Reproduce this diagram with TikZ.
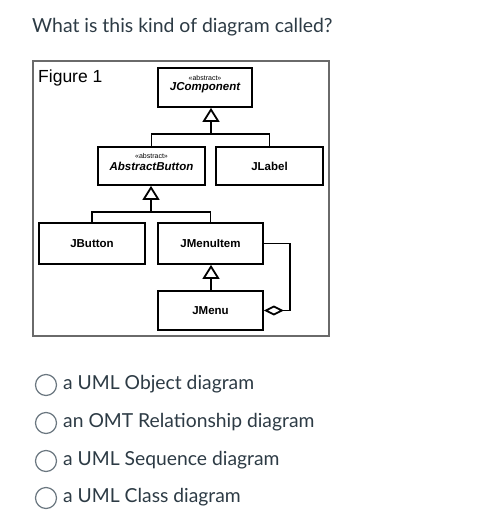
\documentclass[tikz,border=0pt]{standalone}
\usepackage{fontspec}
\setmainfont{Lato}
\newfontfamily\arial{Liberation Sans}
\usetikzlibrary{arrows.meta,calc}
\definecolor{qtext}{HTML}{2D3B45}
\definecolor{radio}{HTML}{6B7780}
\definecolor{framec}{HTML}{6A6A6A}
\tikzset{
  cls/.style={draw=black, line width=1.8pt, fill=white, rectangle, inner sep=0pt,
    minimum width=#1, minimum height=39pt, font=\arial\bfseries\fontsize{11.5}{13}\selectfont},
  abs/.style={font=\arial\fontsize{7}{9}\selectfont, inner sep=0pt},
  gen/.style={line width=1.8pt, -{Triangle[open, length=14pt, width=17pt, fill=white]}},
  agg/.style={line width=1.8pt, -{Diamond[open, length=20pt, width=10pt, fill=white]}},
  conn/.style={line width=1.8pt},
  qfont/.style={font=\fontsize{19.4}{23}\selectfont, text=qtext, inner sep=0pt, anchor=base west},
  ofont/.style={font=\fontsize{19.3}{23}\selectfont, text=qtext, inner sep=0pt, anchor=base west},
  rad/.style={draw=radio, line width=1.2pt, fill=white, circle, minimum size=21pt, inner sep=0pt},
}
\begin{document}
\begin{tikzpicture}[x=1pt, y=-1pt]
\useasboundingbox (0,0) rectangle (480,517);
\fill[white] (0,0) rectangle (480,517);

% question
\node[qfont] (q) at (32,32) {What is this kind of diagram called?};

% figure frame
\draw[framec, line width=1.6pt] (33,61) rectangle (329,336);
\node[font=\arial\fontsize{17.5}{20}\selectfont, inner sep=0pt, anchor=base west] (fig) at (38,82) {Figure 1};

% classes
\node[cls=94pt] (jcomp) at (205,87.5) {\itshape JComponent};
\node[abs] (jcompabs) at ($(jcomp.center)+(0,-9.5)$) {«abstract»};
\node[cls=107pt, minimum height=38pt] (absbtn) at (151.5,166) {\itshape AbstractButton};
\node[abs] (absbtnabs) at ($(absbtn.center)+(0,-10.5)$) {«abstract»};
\node[cls=107pt, minimum height=38pt] (jlabel) at (269.5,166) {JLabel};
\node[cls=106pt, minimum height=41pt] (jbutton) at (92,243.5) {JButton};
\node[cls=105pt, minimum height=41pt] (jmenuitem) at (210.5,243.5) {JMenuItem};
\node[cls=105pt] (jmenu) at (210.5,310.5) {JMenu};

% generalization 1
\coordinate (b1) at (211,134);
\draw[gen] (b1) -- (b1 |- jcomp.south);
\draw[conn] (absbtn.north) |- (b1) -| (jlabel.north);

% generalization 2
\coordinate (b2) at (151,212);
\draw[gen] (b2) -- (b2 |- absbtn.south);
\draw[conn] (jbutton.north) |- (b2) -| (jmenuitem.north);

% generalization 3
\draw[gen] (jmenu.north -| 211,0) -- (jmenuitem.south -| 211,0);

% aggregation
\draw[agg] (jmenuitem.east) -- ++(26,0) |- (jmenu.east);

% options
\node[rad] (r1) at (46,385) {};
\node[ofont] (o1) at (63,389) {a UML Object diagram};
\node[rad] (r2) at (46,423) {};
\node[ofont] (o2) at (63,427) {an OMT Relationship diagram};
\node[rad] (r3) at (46,461) {};
\node[ofont] (o3) at (63,465) {a UML Sequence diagram};
\node[rad] (r4) at (46,498) {};
\node[ofont] (o4) at (63,502) {a UML Class diagram};
\end{tikzpicture}
\end{document}
